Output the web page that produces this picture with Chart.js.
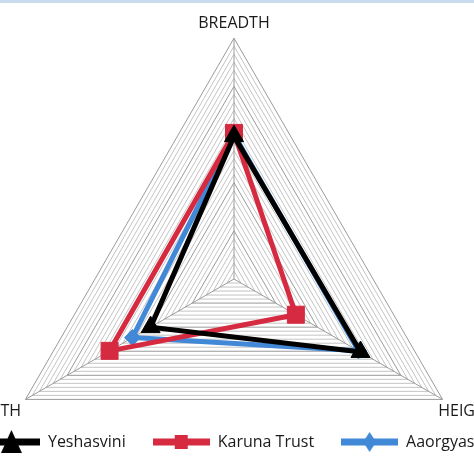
<!DOCTYPE html>
<html>
<head>
<meta charset="utf-8">
<script src="https://cdn.jsdelivr.net/npm/chart.js@4.4.0/dist/chart.umd.min.js"></script>
<style>
  html, body { margin: 0; padding: 0; background: #fff; overflow: hidden; width: 474px; height: 474px; }
  #topline { position: absolute; left: 0; top: 0; width: 474px; height: 3px; background: #c8dcee; z-index: 2; }
  #wrap { position: absolute; left: -76px; top: 0; width: 620px; height: 586px; }
</style>
</head>
<body>
<div id="topline"></div>
<div id="wrap"><canvas id="radar"></canvas></div>
<script>
// axes go clockwise from the top
const axes = ['BREADTH', 'HEIGHT', 'DEPTH']
const seriesNames = ['Yeshasvini', 'Karuna Trust', 'Aaorgyasri']
const yeshasvini = [17.8, 18.2, 12.0]
const karunaTrust = [18.2, 8.9, 17.9]
const aaorgyasri = [18, 17.9, 14.6]
const scaleMax = 30
const majorEvery = 6

const colors = ['#000000', '#d62a41', '#4188d6']
const shapes = ['triangle', 'rect', 'rectRot']
const radii = [11, 12, 8]

Chart.defaults.font.family = "'Open Sans', sans-serif"
Chart.defaults.color = '#1a1a1a'

// line + marker icon for the legend
function legendIcon(color, shape) {
  const c = document.createElement('canvas')
  c.width = 57
  c.height = 24
  const g = c.getContext('2d')
  g.fillStyle = color
  g.fillRect(0, 8.5, 57, 7)
  g.beginPath()
  if (shape == 'triangle') {
    g.moveTo(28.5, 0); g.lineTo(39, 23); g.lineTo(18, 23)
  } else if (shape == 'rect') {
    g.rect(22, 5, 13, 14)
  } else {
    g.moveTo(28.5, 2); g.lineTo(35, 12); g.lineTo(28.5, 22); g.lineTo(22, 12)
  }
  g.closePath()
  g.fill()
  return c
}
const icons = colors.map((c, i) => legendIcon(c, shapes[i]))

// legend sits under the triangle, inside the square radar area
const moveLegend = {
  id: 'moveLegend',
  afterLayout(chart) {
    const lg = chart.legend
    const h = lg.height
    lg.top = 407
    lg.bottom = 407 + h
  }
}

const datasets = [yeshasvini, karunaTrust, aaorgyasri].map((values, i) => ({
  label: seriesNames[i],
  data: values,
  borderColor: colors[i],
  backgroundColor: colors[i],
  borderWidth: 5,
  fill: false,
  pointStyle: shapes[i],
  pointRadius: radii[i],
  pointHoverRadius: radii[i],
  pointBackgroundColor: colors[i],
  pointBorderColor: colors[i],
  pointBorderWidth: 1
}))

new Chart(document.getElementById('radar'), {
  type: 'radar',
  data: { labels: axes, datasets: datasets },
  options: {
    responsive: true,
    maintainAspectRatio: false,
    animation: false,
    layout: { padding: { top: 2, left: 0, right: 0, bottom: 0 } },
    elements: { line: { tension: 0 } },
    scales: {
      r: {
        min: 0,
        max: scaleMax,
        ticks: { stepSize: 1, display: false },
        grid: {
          color: ctx => (ctx.tick && ctx.tick.value % majorEvery === 0) ? '#9a9a9a' : '#c4c4c4',
          lineWidth: 1
        },
        angleLines: { color: '#9a9a9a', lineWidth: 1 },
        // HEIGHT label sits a little left of its corner
        pointLabels: {
          font: ctx => ctx.index === 1 ? { size: 16, lineHeight: 1.8125 } : { size: 16 },
          padding: ctx => ctx.index === 1 ? -5 : 5,
          color: '#1a1a1a'
        }
      }
    },
    plugins: {
      tooltip: { enabled: false },
      legend: {
        position: 'bottom',
        labels: {
          font: { size: 16 },
          color: '#1a1a1a',
          usePointStyle: true,
          pointStyleWidth: 57,
          padding: 27,
          generateLabels(chart) {
            const items = Chart.defaults.plugins.legend.labels.generateLabels(chart)
            items.forEach(it => { it.pointStyle = icons[it.datasetIndex] })
            return items
          }
        }
      }
    }
  },
  plugins: [moveLegend]
})
</script>
</body>
</html>
